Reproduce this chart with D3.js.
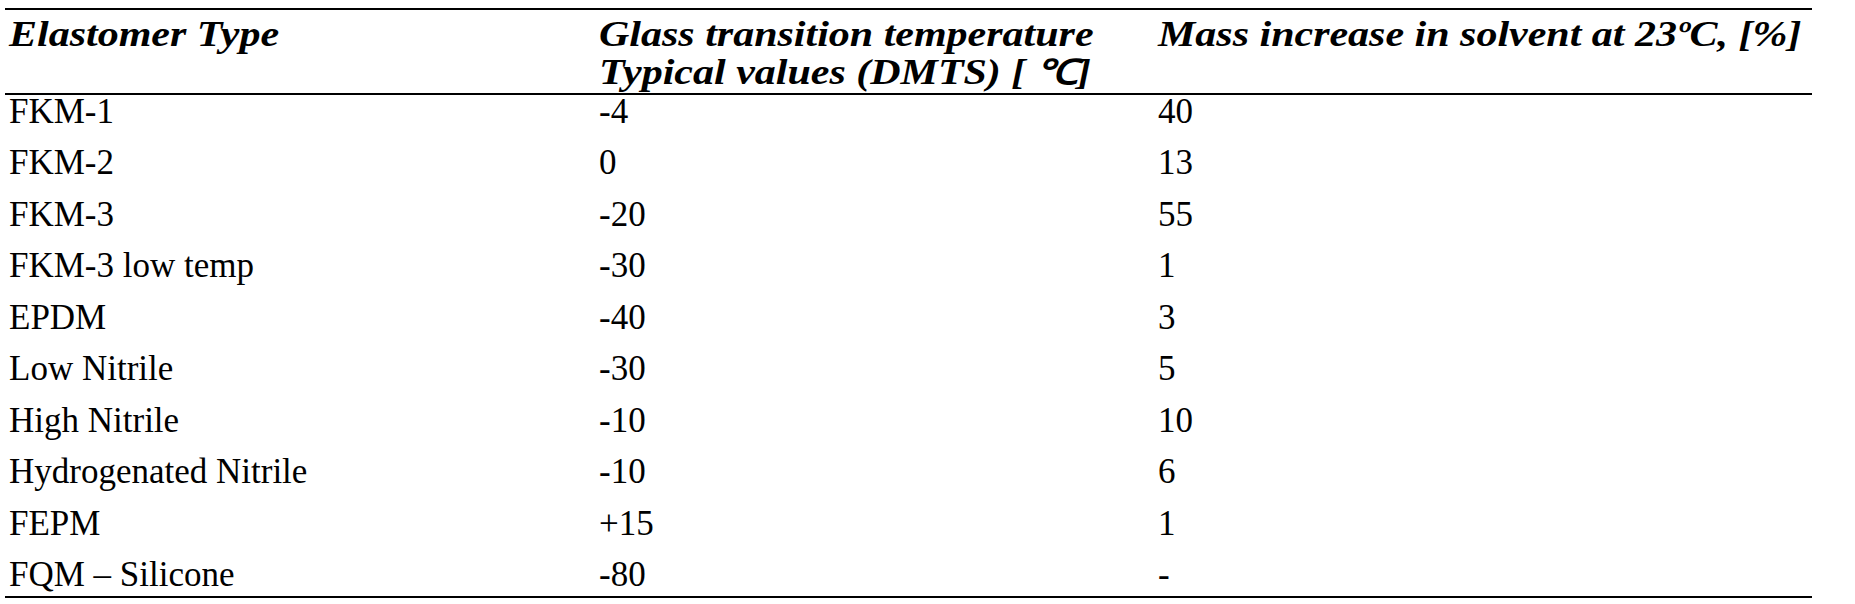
<!DOCTYPE html>
<html><head><meta charset="utf-8">
<script src="https://cdn.jsdelivr.net/npm/d3@7"></script>
<style>body{margin:0;background:#fff}</style></head>
<body><svg id="c" width="1855" height="604"></svg>
<script>
const headers1 = ["Elastomer Type", "Glass transition temperature", "Mass increase in solvent at 23ºC, [%]"];
const headers2 = ["", "Typical values (DMTS) [ ℃]", ""];
const types = ["FKM-1","FKM-2","FKM-3","FKM-3 low temp","EPDM","Low Nitrile","High Nitrile","Hydrogenated Nitrile","FEPM","FQM – Silicone"];
const tg = ["-4","0","-20","-30","-40","-30","-10","-10","+15","-80"];
const mass = ["40","13","55","1","3","5","10","6","1","-"];

const svg = d3.select("#c");
const x = d3.scaleOrdinal().domain([0,1,2]).range([9, 599, 1158]);
const y = d3.scaleLinear().domain([0, types.length-1]).range([123, 586]);
const font = "'Liberation Serif','Times New Roman',serif";

[9,94,597].forEach(yy=>svg.append("line").attr("x1",5).attr("x2",1812).attr("y1",yy).attr("y2",yy).attr("stroke","#000").attr("stroke-width",2));

const hd = svg.append("g").attr("font-family",font).attr("font-weight","bold").attr("font-style","italic").attr("font-size",35);
headers1.forEach((h,i)=>hd.append("text").attr("transform",`translate(${x(i)},46) scale(1.2,1)`).text(h));
headers2.forEach((h,i)=>hd.append("text").attr("transform",`translate(${x(i)},84) scale(1.2,1)`).text(h));

const cols=[types,tg,mass];
const body = svg.append("g").attr("font-family",font).attr("font-size",35);
cols.forEach((col,ci)=>{
  body.selectAll(null).data(col).join("text")
    .attr("x",x(ci)).attr("y",(d,i)=>y(i)).text(d=>d);
});
</script></body></html>
